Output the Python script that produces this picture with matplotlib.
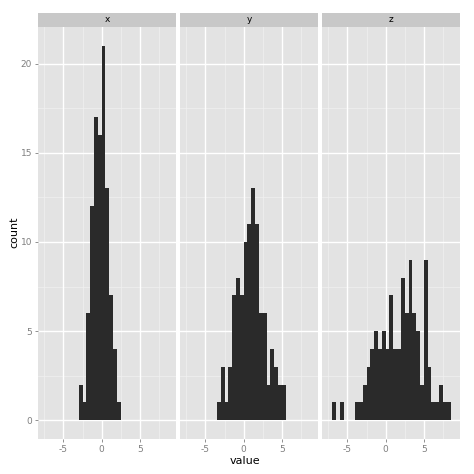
import matplotlib
matplotlib.use("Agg")
import matplotlib.pyplot as plt
import numpy as np

# histogram counts per facet, bins of width 0.5 starting at the given edge
facets = ["x", "y", "z"]
bin_width = 0.5
x_start = -3.0
x_counts = [2, 1, 6, 12, 17, 16, 21, 13, 7, 4, 1]
y_start = -3.5
y_counts = [1, 3, 1, 3, 7, 8, 7, 10, 11, 13, 11, 6, 6, 2, 4, 3, 2, 2]
z_start = -7.0
z_counts = [1, 0, 1, 0, 0, 0, 1, 1, 2, 3, 4, 5, 4, 5, 4, 7, 4, 4, 8, 6,
            9, 6, 5, 2, 9, 3, 1, 1, 2, 1, 1]

x_ticks = [-5, 0, 5]
x_minor = [-7.5, -2.5, 2.5, 7.5]
y_ticks = [0, 5, 10, 15, 20]
y_minor = [2.5, 7.5, 12.5, 17.5]

W = H = 474
fig = plt.figure(figsize=(W / 100, H / 100), dpi=100)
fig.patch.set_facecolor("white")

panel_left = [38.3, 180.3, 322.3]
panel_w = 138.0
panel_top = 26.7
panel_bot = 439.0
strip_top = 13.3

data = [(x_start, x_counts), (y_start, y_counts), (z_start, z_counts)]

for i, (name, (start, counts)) in enumerate(zip(facets, data)):
    ax = fig.add_axes([panel_left[i] / W, (H - panel_bot) / H,
                       panel_w / W, (panel_bot - panel_top) / H])
    ax.set_facecolor("#E3E3E3")
    for v in x_minor:
        ax.axvline(v, color="#F1F1F1", lw=0.5, zorder=0)
    for v in y_minor:
        ax.axhline(v, color="#F1F1F1", lw=0.5, zorder=0)
    for v in x_ticks:
        ax.axvline(v, color="white", lw=1.0, zorder=0)
    for v in y_ticks:
        ax.axhline(v, color="white", lw=1.0, zorder=0)

    counts = np.array(counts)
    lefts = start + bin_width * np.arange(len(counts))
    keep = counts > 0
    ax.bar(lefts[keep], counts[keep], width=bin_width, align="edge",
           color="#2A2A2A", edgecolor="none", zorder=2)

    ax.set_xlim(-8.3, 9.78)
    ax.set_ylim(-1.05, 22.07)
    ax.set_xticks(x_ticks)
    ax.set_xticklabels([str(t) for t in x_ticks])
    ax.set_yticks(y_ticks)
    if i == 0:
        ax.set_yticklabels([str(t) for t in y_ticks])
    else:
        ax.tick_params(axis="y", left=False, labelleft=False)
    for s in ax.spines.values():
        s.set_visible(False)
    ax.tick_params(colors="#7F7F7F", labelcolor="#7F7F7F", labelsize=6.5,
                   length=2.5, width=0.6, pad=2)

    sax = fig.add_axes([panel_left[i] / W, (H - panel_top) / H,
                        panel_w / W, (panel_top - strip_top) / H])
    sax.set_facecolor("#C8C8C8")
    sax.set_xticks([])
    sax.set_yticks([])
    for s in sax.spines.values():
        s.set_visible(False)
    sax.text(0.5, 0.5, name, ha="center", va="center", fontsize=6.5,
             color="black", transform=sax.transAxes)

fig.text(245 / W, 1 - 461 / H, "value", ha="center", va="center", fontsize=8)
fig.text(14 / W, 1 - 232 / H, "count", ha="center", va="center",
         fontsize=8, rotation=90)

fig.savefig("out.png", dpi=100)
